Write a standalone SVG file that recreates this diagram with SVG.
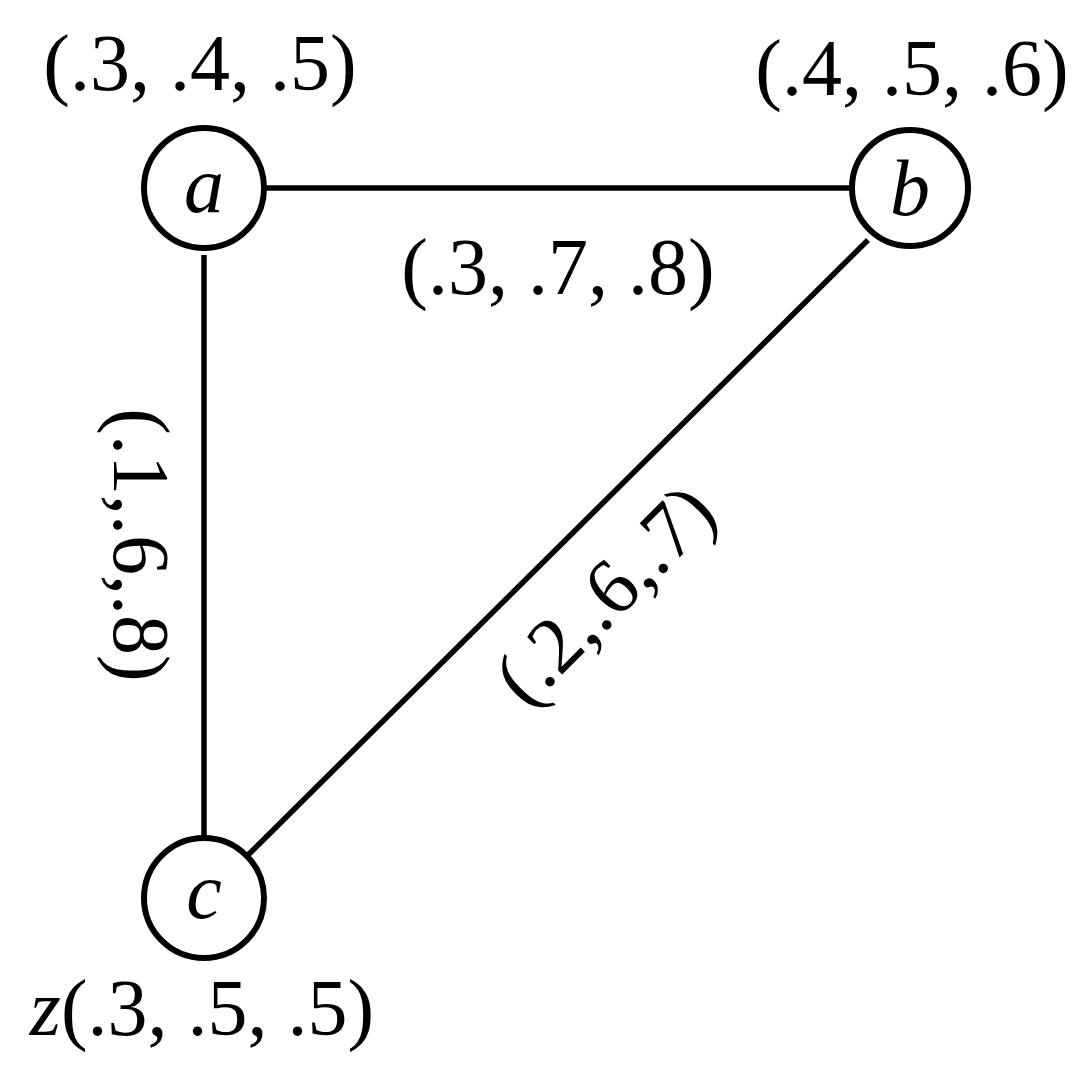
<svg xmlns="http://www.w3.org/2000/svg" width="1089" height="1079" viewBox="0 0 1089 1079">
<style>
.n{fill:#fff;stroke:#000;stroke-width:6}
.e{stroke:#000;stroke-width:5.5;fill:none}
text{font-family:"Liberation Serif",serif;font-size:80px;fill:#000}
.v{font-style:italic;text-anchor:middle}
</style>
<rect width="1089" height="1079" fill="#fff"/>
<g id="connectors">
<line class="e" x1="266" y1="188" x2="850" y2="188"/>
<line class="e" x1="204" y1="255" x2="204" y2="838"/>
<line class="e" x1="868" y1="240" x2="248" y2="855"/>
<text x="558" y="294" text-anchor="middle">(.3, .7, .8)</text>
<text transform="translate(140,545) rotate(90)" text-anchor="middle" dy="26">(.1,.6,.8)</text>
<text transform="translate(605,595) rotate(-45)" text-anchor="middle" dy="26">(.2,.6,.7)</text>
</g>
<g id="a"><circle class="n" cx="204" cy="188" r="60"/><text class="v" x="204" y="212">a</text>
<text x="200" y="90" text-anchor="middle">(.3, .4, .5)</text></g>
<g id="b"><circle class="n" cx="910" cy="188" r="58"/><text class="v" x="910" y="215">b</text>
<text x="912" y="95" text-anchor="middle">(.4, .5, .6)</text></g>
<g id="c"><circle class="n" cx="204" cy="898" r="60"/><text class="v" x="204" y="918">c</text>
<text x="202" y="1035" text-anchor="middle"><tspan font-style="italic">z</tspan>(.3, .5, .5)</text></g>
</svg>
